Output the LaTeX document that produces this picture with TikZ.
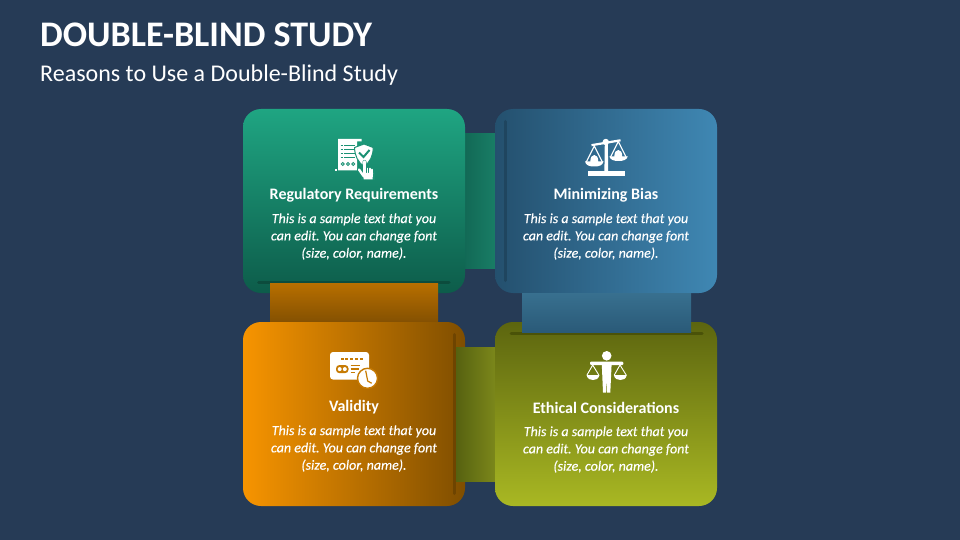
\documentclass[tikz,border=0pt]{standalone}
\usepackage{fontspec}
\setmainfont{Carlito}
\definecolor{bgc}{HTML}{263B56}
\definecolor{greenA}{HTML}{1FA582}
\definecolor{greenB}{HTML}{0D5C4A}
\definecolor{blueA}{HTML}{24506E}
\definecolor{blueB}{HTML}{3F87B3}
\definecolor{orangeA}{HTML}{F79400}
\definecolor{orangeB}{HTML}{7F4E00}
\definecolor{oliveA}{HTML}{5C650F}
\definecolor{oliveB}{HTML}{A9B823}
\definecolor{HTMLgone}{HTML}{116653}
\definecolor{HTMLgtwo}{HTML}{1A8068}
\definecolor{HTMLgs}{HTML}{0C4C3D}
\definecolor{HTMLbs}{HTML}{1F455F}
\definecolor{HTMLoone}{HTML}{B86F00}
\definecolor{HTMLotwo}{HTML}{A86500}
\definecolor{HTMLothree}{HTML}{7C4C02}
\definecolor{HTMLos}{HTML}{6E4400}
\definecolor{HTMLlone}{HTML}{566110}
\definecolor{HTMLltwo}{HTML}{7A861A}
\definecolor{HTMLlthree}{HTML}{808C1C}
\definecolor{HTMLls}{HTML}{4A5208}
\definecolor{HTMLbone}{HTML}{38708F}
\definecolor{HTMLbtwo}{HTML}{2A5A78}
\tikzset{
  x=1pt,y=-1pt,
  card/.style={rectangle,rounded corners=18pt,minimum width=222pt,minimum height=184pt,inner sep=0pt,outer sep=0pt,anchor=north west},
  band/.style={rectangle,inner sep=0pt,outer sep=0pt,anchor=north west},
  strip/.style={line width=3pt,line cap=round},
  head/.style={text=white,font=\fontsize{16}{18}\selectfont\bfseries,inner sep=0pt},
  body/.style={text=white,font=\fontsize{14}{17.3}\selectfont\itshape\addfontfeature{FakeBold=0.25},align=center,inner sep=0pt},
}
\begin{document}
\frenchspacing
\begin{tikzpicture}
\useasboundingbox (0,0) rectangle (960,540);
\fill[bgc] (0,0) rectangle (960,540);
\node[anchor=base west,text=white,inner sep=0pt,font=\fontsize{36}{40}\selectfont\bfseries] (title) at (40,46.7) {DOUBLE-BLIND STUDY};
\node[anchor=base west,text=white,inner sep=0pt,font=\fontsize{24}{28}\selectfont] (subtitle) at (40,82) {Reasons to Use a Double-Blind Study};

% connector green -> blue
\node[band,minimum width=40pt,minimum height=134pt,left color=HTMLgone,right color=HTMLgtwo] (cg) at (460,134) {};
% cards top
\node[card,top color=greenA,bottom color=greenB] (green) at (243,109) {};
\node[card,left color=blueA,right color=blueB] (blue) at (495,109) {};
\draw[strip,color=HTMLgs] (258.5,282) -- (449,282);
\draw[strip,color=HTMLbs] (505,121.5) -- (505,280.5);
% connector green -> orange
\node[band,minimum width=168pt,minimum height=45pt,top color=HTMLoone,middle color=HTMLotwo,bottom color=HTMLothree] (co) at (270,283) {};
% orange card
\node[card,left color=orangeA,right color=orangeB] (orange) at (243,322) {};
\draw[strip,color=HTMLos] (454.5,334.5) -- (454.5,493.5);
% connector orange -> olive
\node[band,minimum width=44pt,minimum height=134pt,left color=HTMLlone,middle color=HTMLltwo,right color=HTMLlthree] (cl) at (456,347) {};
% olive card
\node[card,top color=oliveA,bottom color=oliveB] (olive) at (495,322) {};
\draw[strip,color=HTMLls] (511,333.5) -- (702,333.5);
% connector blue -> olive
\node[band,minimum width=169pt,minimum height=39pt,top color=HTMLbone,bottom color=HTMLbtwo] (cb) at (522,293) {};

% text
\node[head] (h1) at (354,195.3) {Regulatory Requirements};
\node[body] (b1) at (354,236.5) {This is a sample text that you\\can edit. You can change font\\(size, color, name).};
\node[head] (h2) at (606,195.3) {Minimizing Bias};
\node[body] (b2) at (606,236.5) {This is a sample text that you\\can edit. You can change font\\(size, color, name).};
\node[head] (h3) at (354,407.3) {Validity};
\node[body] (b3) at (354,448.5) {This is a sample text that you\\can edit. You can change font\\(size, color, name).};
\node[head] (h4) at (606,408.3) {Ethical Considerations};
\node[body] (b4) at (606,449.5) {This is a sample text that you\\can edit. You can change font\\(size, color, name).};

% icon 1: document, shield, hand
\definecolor{ia}{HTML}{1B9174}
\fill[white] (338,139) -- (361.5,139) -- (361.5,141.5) -- (357,141.5) -- (357,170.5) -- (338,170.5) -- cycle;
\fill[white] (334.5,169.5) rectangle (337,171.5);
\foreach \yy in {145,149,153.2,157.2}{
  \draw[ia,line width=0.9pt] (340.5,\yy) -- (342.5,\yy);
  \draw[ia,line width=0.9pt] (344,\yy) -- (355,\yy);
}
\foreach \xx in {342.7,348,353.3}{\draw[ia,line width=0.9pt] (\xx,164) circle (1.5);}
\fill[white,draw=ia,line width=1pt] (364,144) -- (373.2,147.5) .. controls (373.2,156) and (370,162) .. (364,166.5) .. controls (358,162) and (354.6,156) .. (354.6,147.5) -- cycle;
\draw[ia,line width=2pt] (359,152.5) -- (363.5,157) -- (369.5,150);
% hand
\draw[ia,line width=4pt,line cap=round] (364.5,162) -- (364.5,174) (359,170) -- (363,176);
\fill[ia] (361,170) rectangle (374.5,180.5);
\draw[white,line width=2.4pt,line cap=round] (364.5,161.5) -- (364.5,174);
\draw[white,line width=2.4pt,line cap=round] (359,169.5) -- (363.5,176);
\draw[white,line width=1.7pt,line cap=round] (367.6,168.5) -- (367.6,175) (369.9,168.5) -- (369.9,175) (372.2,169.5) -- (372.2,175);
\fill[white] (362.5,173) -- (373.1,173) -- (372.5,179.5) -- (363.8,179.5) -- cycle;

% icon 2: balance
\fill[white] (587.5,171) rectangle (625,176);
\fill[white] (604.8,142) -- (607.8,142) -- (608.2,171) -- (604.4,171) -- cycle;
\draw[white,line width=2.2pt] (591.5,145.2) -- (620.5,140.3);
\fill[white] (605.8,142) circle (3.2);
\draw[white,line width=1.1pt] (594.3,146) -- (586.3,162) (594.3,146) -- (602.3,162);
\draw[white,line width=1.1pt] (618.3,141.5) -- (610.3,157.5) (618.3,141.5) -- (626.3,157.5);
\fill[white] (585,161.5) -- (603.5,161.5) .. controls (602.5,165.5) and (599,166.5) .. (594.3,166.5) .. controls (589.5,166.5) and (586,165.5) .. (585,161.5) -- cycle;
\fill[white] (609.3,156.3) -- (627.8,156.3) .. controls (626.8,160) and (623,161) .. (618.5,161) .. controls (614,161) and (610.3,160) .. (609.3,156.3) -- cycle;
\fill[white] (590.3,162) .. controls (590.3,157) and (592,155) .. (594.3,155) .. controls (596.6,155) and (598.3,157) .. (598.3,162) -- cycle;
\fill[white] (614.3,157) .. controls (614.3,152) and (616,150) .. (618.3,150) .. controls (620.6,150) and (622.3,152) .. (622.3,157) -- cycle;

% icon 3: card and clock
\definecolor{ib}{HTML}{C67A03}
\fill[white,rounded corners=3pt] (330,352) rectangle (369,379.5);
\foreach \xx in {340.5,345.3,350.1,354.9,359.7}{\fill[ib] (\xx,358.4) rectangle +(3,1.9);}
\fill[ib,rounded corners=3.5pt] (336,365) rectangle (348.5,373.2);
\fill[white] (339.7,369.1) circle (2);
\fill[white] (344.8,369.1) circle (2);
\draw[ib,line width=1.1pt] (350.7,365.7) -- (360,365.7) (350.7,369) -- (358.5,369) (350.7,372.2) -- (355,372.2);
\fill[white,draw=ib,line width=1.4pt] (367.5,378.3) circle (10);
\draw[ib,line width=1.2pt] (365.7,370.7) -- (367.7,381) -- (371.7,383.3);

% icon 4: person with scales
\fill[white] (606.7,355.8) circle (4.8);
\fill[white,rounded corners=1pt] (590,361.7) rectangle (623.3,365);
\fill[white] (601.7,362) -- (611.7,362) -- (610.3,392.5) -- (607.2,392.5) -- (606.7,377) -- (606.2,392.5) -- (603,392.5) -- cycle;
\draw[white,line width=0.9pt] (592.7,365) -- (587,375) (592.7,365) -- (598.8,375);
\draw[white,line width=0.9pt] (620,365) -- (614.3,375) (620,365) -- (626.2,375);
\fill[white] (586.5,375) -- (599.5,375) .. controls (598.5,379) and (596,380) .. (593,380) .. controls (590,380) and (587.5,379) .. (586.5,375) -- cycle;
\fill[white] (613.8,375) -- (626.8,375) .. controls (625.8,379) and (623.3,380) .. (620.3,380) .. controls (617.3,380) and (614.8,379) .. (613.8,375) -- cycle;
\end{tikzpicture}
\end{document}
